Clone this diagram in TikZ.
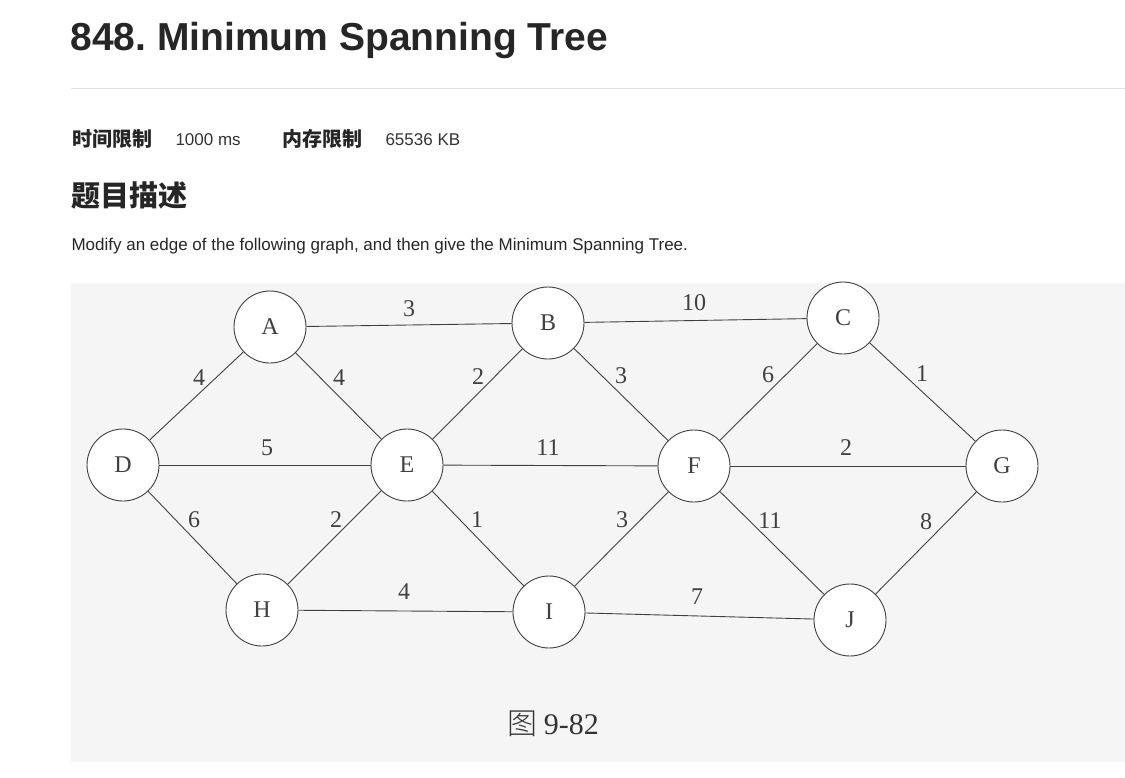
\documentclass[tikz,border=0pt]{standalone}
\usepackage{fontspec}
\setmainfont{Liberation Sans}
\newfontfamily\cjk{Noto Sans CJK SC}
\newfontfamily\serifm{Liberation Serif}
\newfontfamily\cjkserif{Noto Sans CJK SC Light}
\frenchspacing
\begin{document}
\begin{tikzpicture}[x=1pt,y=-1pt,
  vtx/.style={circle,draw=black!75,line width=0.9pt,fill=white,minimum size=72pt,inner sep=0pt,font=\serifm\fontsize{24}{24}\selectfont,text=black!75},
  edg/.style={draw=black!75,line width=0.9pt},
  wl/.style={font=\serifm\fontsize{24}{24}\selectfont,text=black!75},
  every node/.style={anchor=center}]
\useasboundingbox (0,0) rectangle (1125,777);
\fill[white] (0,0) rectangle (1125,777);
\node[anchor=west,font=\bfseries\fontsize{39}{39}\selectfont,text=black!85] (title) at (67,40) {848. Minimum Spanning Tree};
\draw[black!12,line width=1pt] (71,88) -- (1125,88);
\node[anchor=west,font=\cjk\bfseries\fontsize{20}{20}\selectfont,text=black!85] (t1) at (69,139) {时间限制};
\node[anchor=west,font=\fontsize{17}{17}\selectfont,text=black!80] (t2) at (172,140) {1000 ms};
\node[anchor=west,font=\cjk\bfseries\fontsize{20}{20}\selectfont,text=black!85] (t3) at (279,139) {内存限制};
\node[anchor=west,font=\fontsize{17}{17}\selectfont,text=black!80] (t4) at (382,140) {65536 KB};
\node[anchor=west,font=\cjk\bfseries\fontsize{29}{29}\selectfont,text=black!85] (t5) at (68,195) {题目描述};
\node[anchor=west,font=\fontsize{17}{17}\selectfont,text=black!85] (t6) at (68,246) {Modify an edge of the following graph, and then give the Minimum Spanning Tree.};
\fill[black!4] (71,283) rectangle (1125,762);
\node[vtx] (A) at (270,327) {A};
\node[vtx] (B) at (548,323) {B};
\node[vtx] (C) at (843,318) {C};
\node[vtx] (D) at (123,465) {D};
\node[vtx] (E) at (407,465) {E};
\node[vtx] (F) at (694,466) {F};
\node[vtx] (G) at (1002,466) {G};
\node[vtx] (H) at (262,610) {H};
\node[vtx] (I) at (549,612) {I};
\node[vtx] (J) at (850,620) {J};
\foreach \a/\b in {A/B,B/C,A/D,A/E,B/E,B/F,C/F,C/G,D/E,E/F,F/G,D/H,E/H,E/I,F/I,F/J,G/J,H/I,I/J}
  \path[edg] (\a) -- (\b);
\foreach \t/\x/\y [count=\i] in {3/409/309,10/694/303,4/199/378,4/339/378,2/478/377,3/621/376,6/768/375,1/922/374,5/267/448,11/548/448,2/846/448,6/194/520,2/336/520,1/477/520,3/622/520,11/770/521,8/926/522,4/404/592,7/697/597}
  \node[wl] (w\i) at (\x,\y) {\t};
\node[font=\cjkserif\fontsize{30}{30}\selectfont,text=black!80] (cap) at (553,724) {图 {\serifm 9-82}};
\end{tikzpicture}
\end{document}
